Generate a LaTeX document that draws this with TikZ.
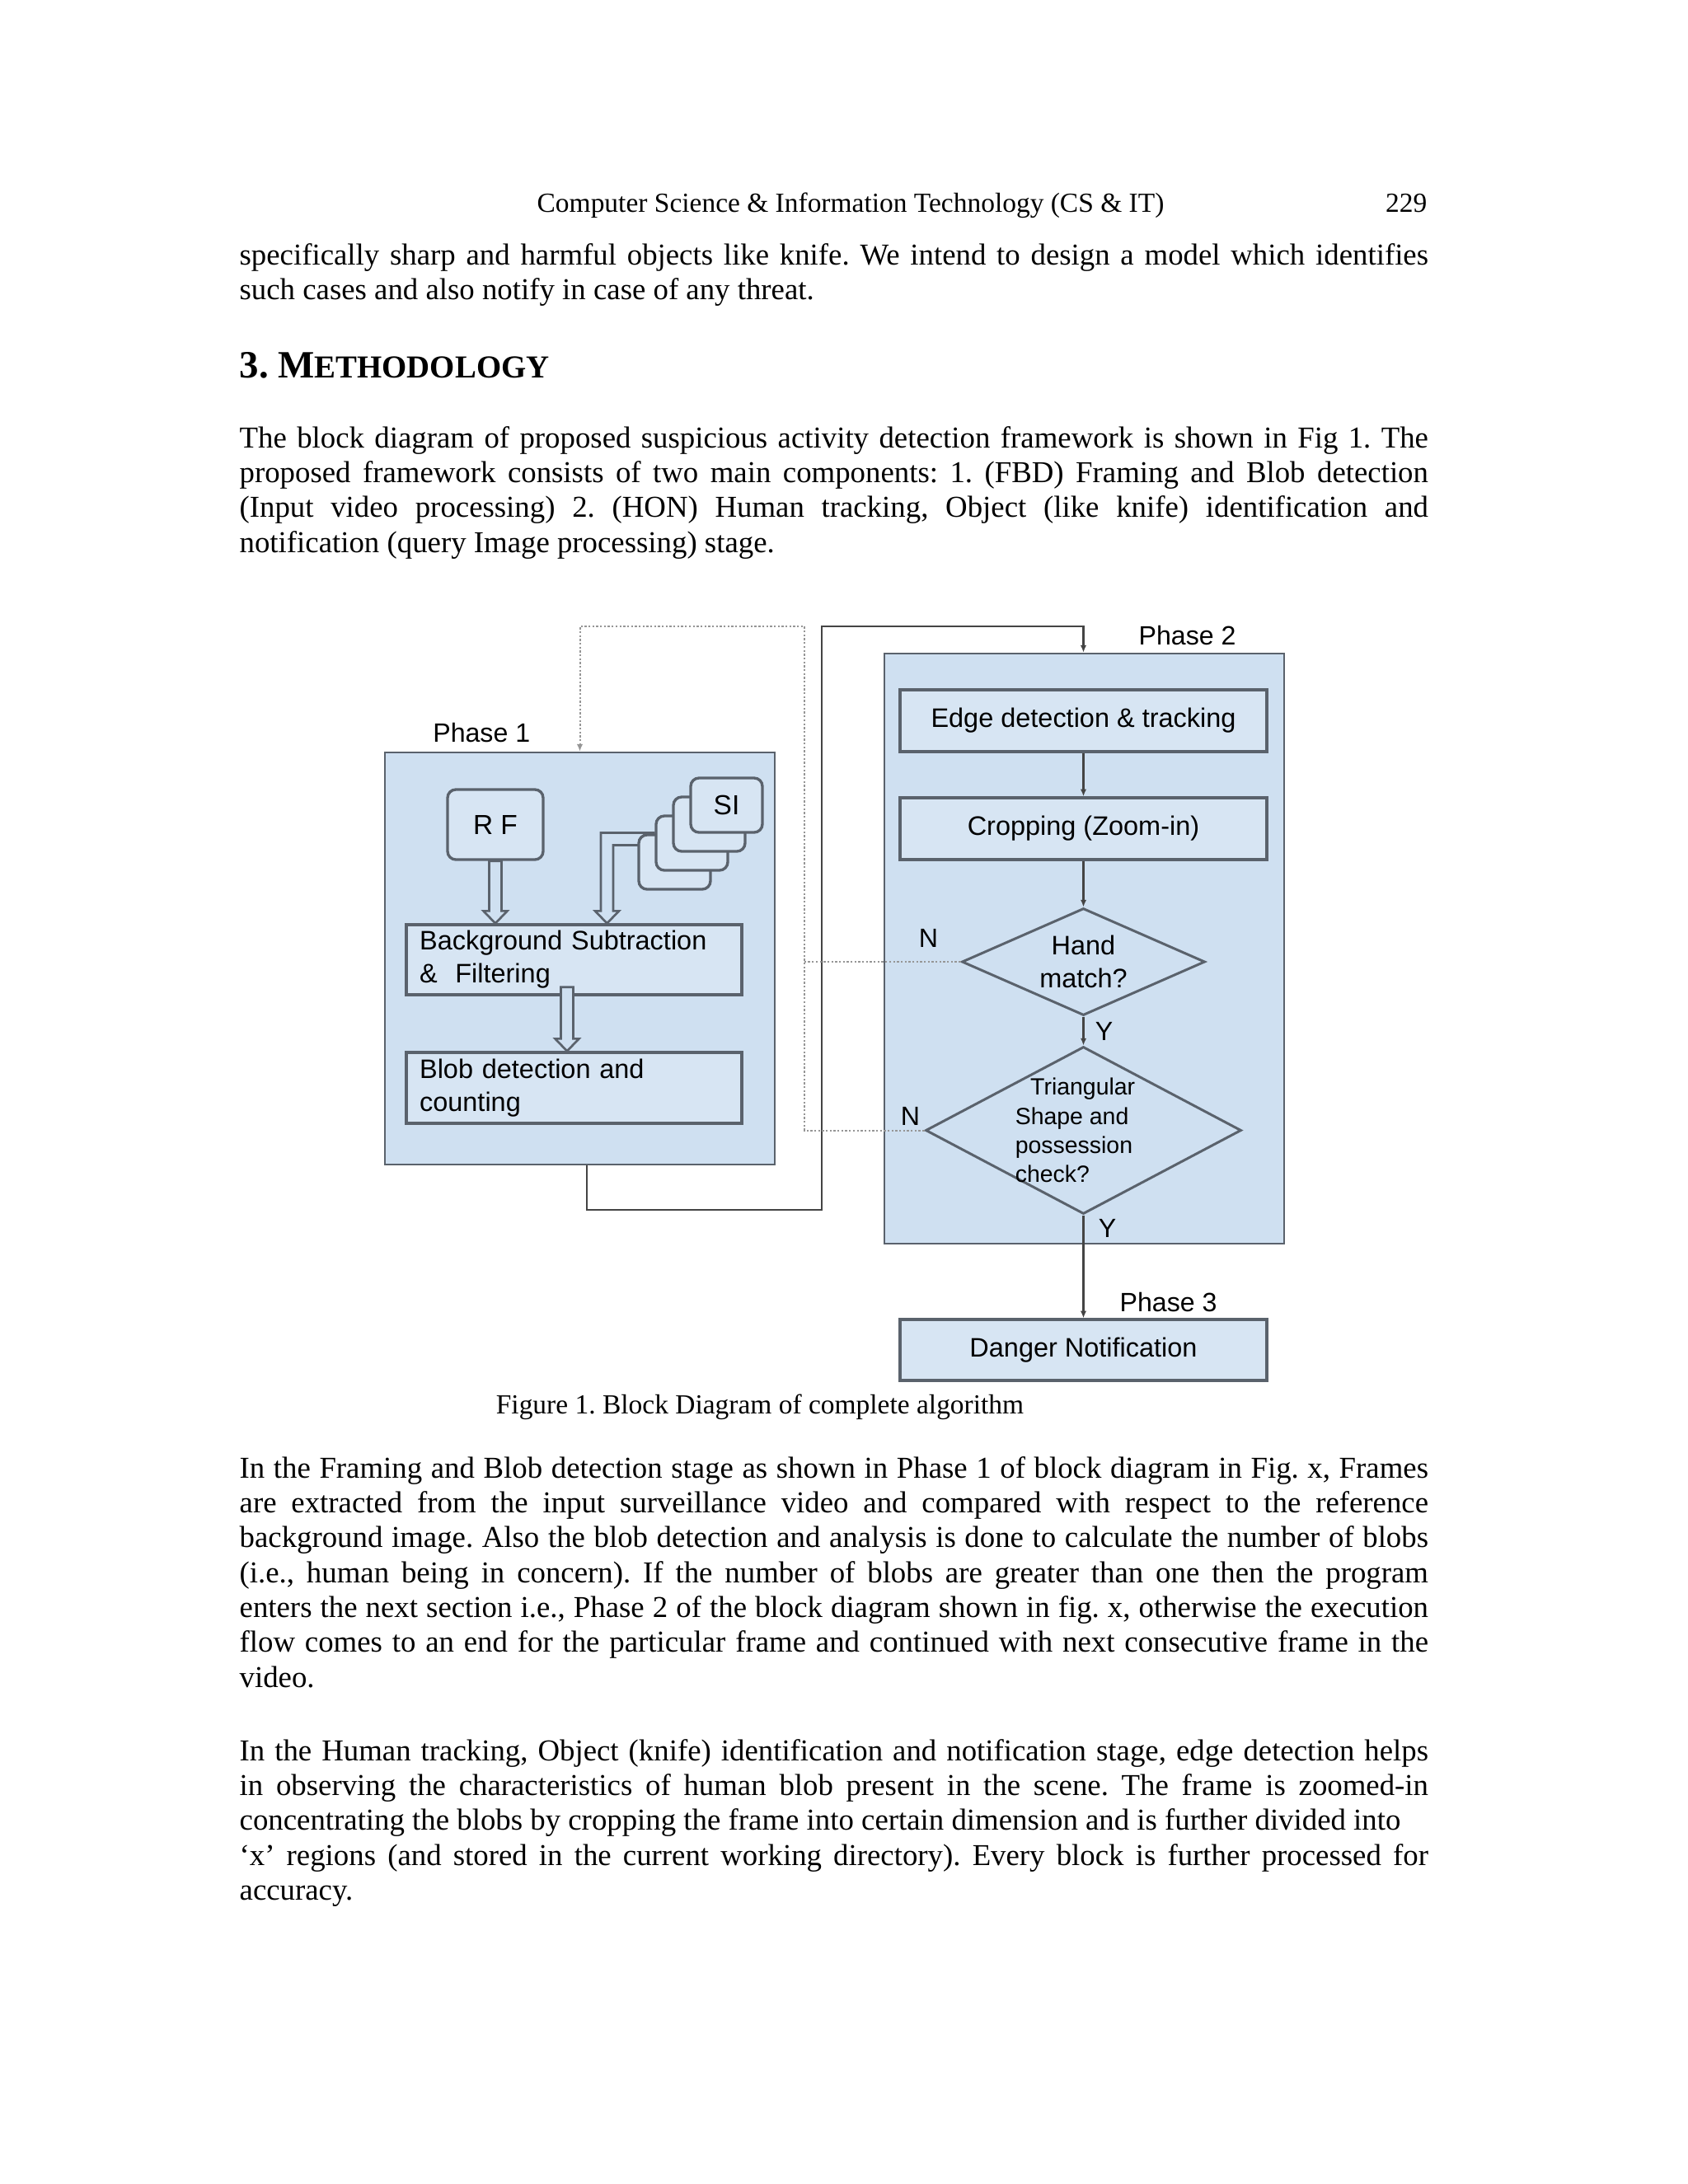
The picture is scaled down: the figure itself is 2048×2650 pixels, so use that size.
\documentclass[tikz,border=0pt]{standalone}
\usepackage{fontspec}
\setmainfont{Liberation Serif}
\newfontfamily\diagfont{Liberation Sans}
\usetikzlibrary{positioning, calc, shapes.geometric, arrows.meta}
\frenchspacing

\definecolor{phasefill}{RGB}{207,224,241}
\definecolor{boxfill}{RGB}{215,229,243}
\definecolor{edgegray}{RGB}{90,98,108}
\definecolor{flowgray}{RGB}{68,68,68}
\definecolor{dotgray}{RGB}{150,150,150}
\newcommand{\px}{0.29883pt}
\newcommand{\fatdown}[2]{%
  \draw[fatarrow] ($(#1)+(-7.5,0)$) -- ($(#1 |- #2)+(-7.5,-15)$) -- ($(#1 |- #2)+(-14.5,-15)$)
    -- (#1 |- #2) -- ($(#1 |- #2)+(14.5,-15)$) -- ($(#1 |- #2)+(7.5,-15)$) -- ($(#1)+(7.5,0)$) -- cycle;}

\tikzset{
  page/.style={inner sep=0pt, font=\fontsize{11}{12.65}\selectfont, text width=431pt, align=justify, anchor=base west},
  head/.style={inner sep=0pt, font=\fontsize{10}{12}\selectfont},
  phase/.style 2 args={draw=edgegray, fill=phasefill, line width=0.8pt, minimum width=#1*\px, minimum height=#2*\px, inner sep=0pt},
  block/.style 2 args={draw=edgegray, fill=boxfill, line width=1pt, minimum width=#1*\px, minimum height=#2*\px, inner sep=0pt, align=center, font=\diagfont\fontsize{9.7}{12}\selectfont},
  stack/.style={block={87}{66}, rounded corners=3pt, font=\diagfont\fontsize{10}{12}\selectfont},
  decision/.style={draw=edgegray, shape=diamond, line width=0.9pt, inner sep=0pt, align=center, font=\diagfont\fontsize{9.7}{12}\selectfont},
  tritext/.style={inner sep=0pt, align=left, font=\diagfont\fontsize{8.5}{10.5}\selectfont},
  lbl/.style={inner sep=0pt, font=\diagfont\fontsize{9.6}{12}\selectfont},
  flow/.style={draw=flowgray, line width=0.7pt, -{Latex[length=2.6pt,width=2.2pt]}},
  dotline/.style={draw=dotgray, line width=0.6pt, dash pattern=on 0.7pt off 0.7pt},
  fatarrow/.style={draw=edgegray, fill=phasefill, line width=0.8pt, line join=miter}
}

\begin{document}
\begin{tikzpicture}[x=\px, y=-\px]
\useasboundingbox[fill=white] (0,0) rectangle (2048,2650);

\node[head, anchor=base] (runhead) at (1032,257) {Computer Science \& Information Technology (CS \& IT)};
\node[head, anchor=base east] (pageno) at (1732,257) {229};

\node[page] (para1) at (290,321) {specifically sharp and harmful objects like knife. We intend to design a model which identifies\linebreak such cases and also notify in case of any threat.};

\node[inner sep=0pt, anchor=base west, font=\bfseries] (sec) at (290,458) {\fontsize{14}{16}\selectfont 3. M\fontsize{11.6}{14}\selectfont ETHODOLOGY};

\node[page] (para2) at (290,543) {The block diagram of proposed suspicious activity detection framework is shown in Fig 1. The\linebreak proposed framework consists of two main components: 1. (FBD) Framing and Blob detection\linebreak (Input video processing) 2. (HON) Human tracking, Object (like knife) identification and\linebreak notification (query Image processing) stage.};

% phase 1
\node[phase={473}{500}] (phase1) at (703.5,1163) {};
\node[phase={485}{716}] (phase2) at (1315.5,1151) {};

\node[block={116}{85}, rounded corners=3pt, font=\diagfont\fontsize{10}{12}\selectfont] (rf) at (601,1000.5) {R F};
\node[block={407}{85}, text width=112pt, inner xsep=16*\px, align=left] (bs) at (696.5,1164.5) {Background Subtraction\\\&\ \ Filtering};
\node[block={407}{86}, text width=112pt, inner xsep=16*\px, align=left] (blob) at (696.5,1320) {Blob detection and\\counting};

\coordinate (sitail) at (774.5,1018);
\coordinate (sibend) at ($(sitail)+(-38,0)$);
\draw[fatarrow] ($(sitail)+(20,-7.5)$) -- ($(sibend)+(-7.5,-7.5)$) -- ($(sibend |- bs.north)+(-7.5,-15)$)
  -- ($(sibend |- bs.north)+(-14.5,-15)$) -- (sibend |- bs.north) -- ($(sibend |- bs.north)+(14.5,-15)$)
  -- ($(sibend |- bs.north)+(7.5,-15)$) -- ($(sibend)+(7.5,7.5)$) -- ($(sitail)+(20,7.5)$);
\foreach \i in {4,3,2}
  \node[stack] (si\i) at ({881.5-21*(\i-1)},{977+23*(\i-1)}) {};
\node[stack] (si1) at (881.5,977) {SI};

\fatdown{rf.south}{bs.north}
\coordinate (bsout) at ($(bs.south)+(-8.5,-11)$);
\fatdown{bsout}{blob.north}

% phase 2
\node[block={445}{75}] (edge) at (1314.5,874.5) {Edge detection \& tracking};
\node[block={445}{75}] (crop) at (1314.5,1005.5) {Cropping (Zoom-in)};
\node[decision, minimum width=295*\px, minimum height=130*\px, aspect=2.27] (hand) at (1314.5,1167) {Hand\\match?};
\node[decision, minimum width=383*\px, minimum height=203*\px, aspect=1.89] (tri) at (1314.5,1371.5) {};
\node[tritext] (tritxt) at ($(tri)+(-10,0)$) {\hspace*{5.5pt}Triangular\\Shape and\\possession\\check?};
\node[block={445}{74}] (danger) at (1314.5,1638) {Danger Notification};

\draw[flow] (edge) -- (crop);
\draw[flow] (crop) -- (hand);
\draw[flow] (hand) -- (tri);
\draw[flow] (tri) -- (danger);

\node[lbl] (handN) at ($(hand.west)+(-39,-29)$) {N};
\node[lbl] (handY) at ($(hand.south)+(25,18)$) {Y};
\node[lbl] (triN) at ($(tri.west)+(-17,-17)$) {N};
\node[lbl] (triY) at ($(tri.south)+(29,16)$) {Y};
\node[lbl, anchor=west] (p1lbl) at ($(phase1.north west)+(59,-23)$) {Phase 1};
\node[lbl, anchor=west] (p2lbl) at ($(phase2.north)+(65.5,-21)$) {Phase 2};
\node[lbl, anchor=west] (p3lbl) at ($(danger.north)+(43.5,-19)$) {Phase 3};

% loops between the phases
\coordinate (p1out) at ($(phase1.south)+(8.5,0)$);
\coordinate (loopbot) at (997,1468);
\coordinate (looptop) at (997,760);
\draw[flow] (p1out) |- (loopbot) -- (looptop) -| (edge.north |- phase2.north);
\coordinate (dottop) at (976,760);
\draw[dotline] (hand.west) -- (hand.west -| dottop);
\draw[dotline, -{Latex[length=2.6pt,width=2.2pt]}] (tri.west) -| (dottop) -| (phase1.north);

\node[head, anchor=base] (caption) at (922,1715) {Figure 1. Block Diagram of complete algorithm};

\node[page] (para3) at (290,1793) {In the Framing and Blob detection stage as shown in Phase 1 of block diagram in Fig. x, Frames\linebreak are extracted from the input surveillance video and compared with respect to the reference\linebreak background image. Also the blob detection and analysis is done to calculate the number of blobs\linebreak (i.e., human being in concern). If the number of blobs are greater than one then the program\linebreak enters the next section i.e., Phase 2 of the block diagram shown in fig. x, otherwise the execution\linebreak flow comes to an end for the particular frame and continued with next consecutive frame in the\linebreak video.};

\node[page] (para4) at (290,2136) {In the Human tracking, Object (knife) identification and notification stage, edge detection helps\linebreak in observing the characteristics of human blob present in the scene. The frame is zoomed-in\linebreak concentrating the blobs by cropping the frame into certain dimension and is further divided into\\‘x’ regions (and stored in the current working directory). Every block is further processed for\linebreak accuracy.};
\end{tikzpicture}
\end{document}
